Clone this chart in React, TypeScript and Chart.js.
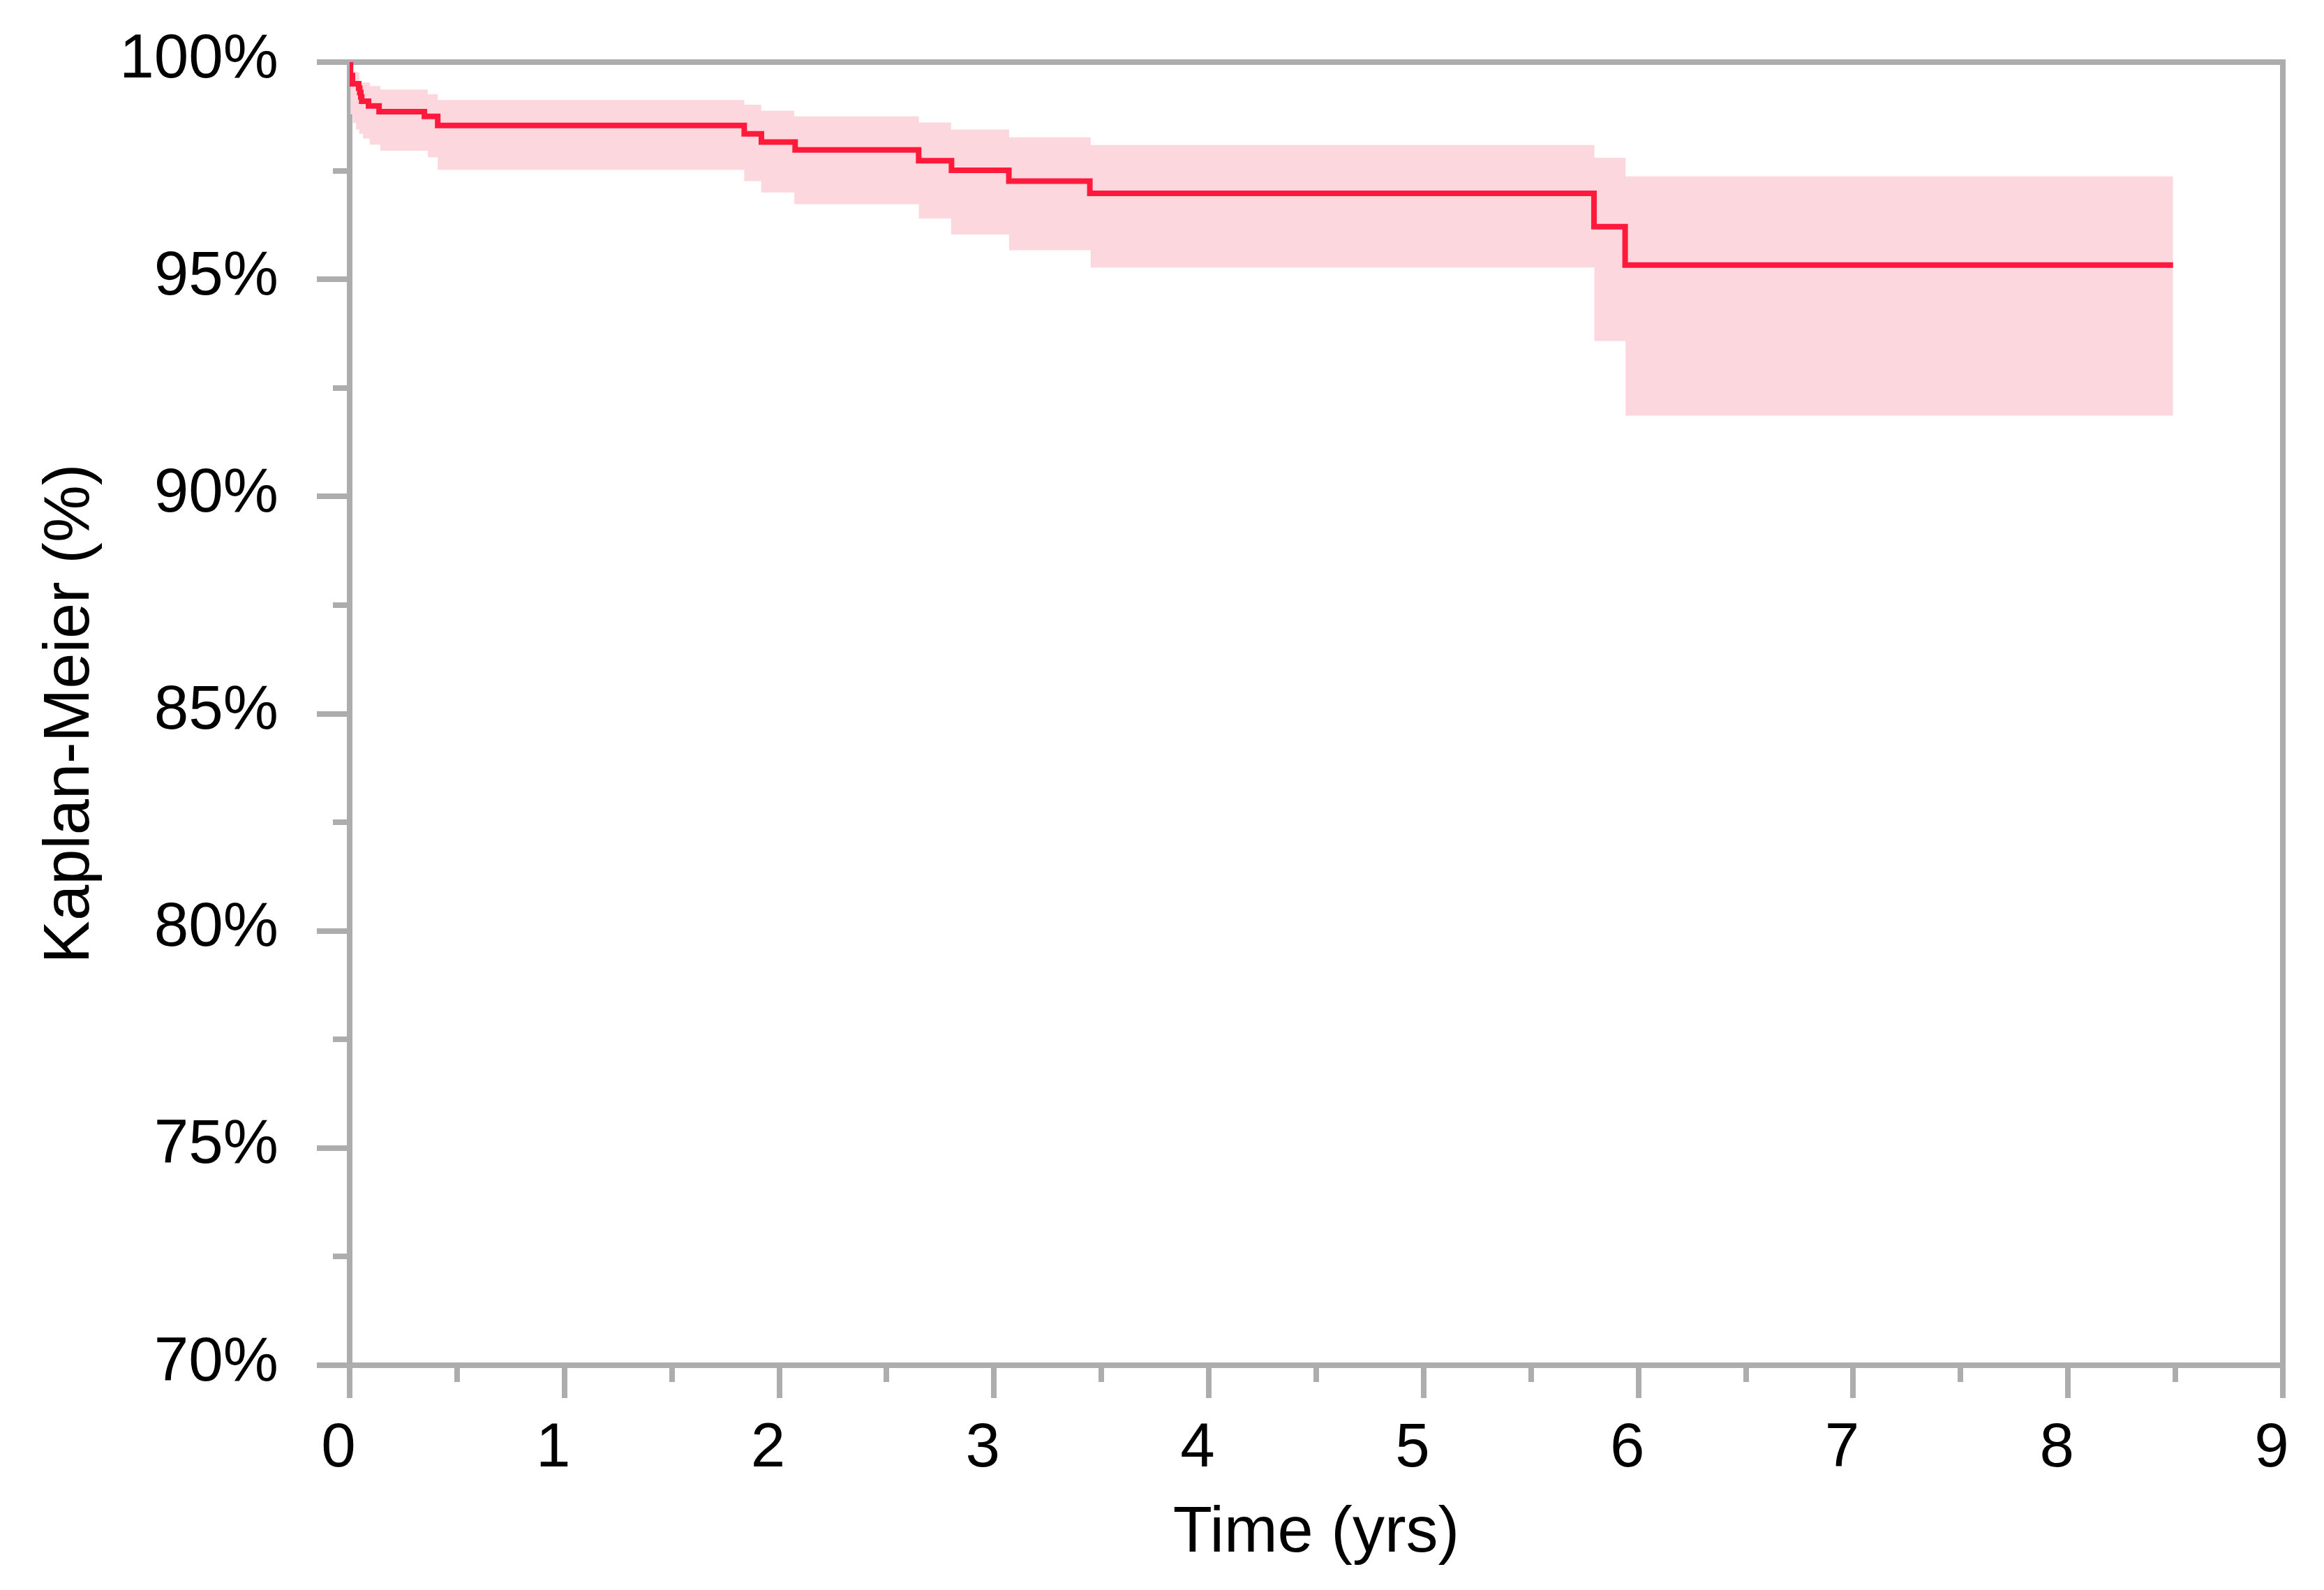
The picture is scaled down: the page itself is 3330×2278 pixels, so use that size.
import React, { useEffect, useRef } from 'react';
import { Chart, registerables } from 'chart.js';

Chart.register(...registerables);

// Kaplan-Meier estimate (time in years, survival in %)
const kmTimes = [0, 0.004, 0.013, 0.042, 0.047, 0.052, 0.056, 0.088, 0.137, 0.348, 0.41, 1.837, 1.917, 2.074, 2.649, 2.802, 3.069, 3.446, 5.793, 5.938, 8.489];
const kmSurvival = [100, 99.69, 99.5, 99.4, 99.3, 99.2, 99.1, 98.99, 98.86, 98.75, 98.54, 98.35, 98.16, 97.98, 97.73, 97.51, 97.26, 96.98, 96.21, 95.33, 95.33];

// Confidence band
const ciTimes = [0, 0.004, 0.015, 0.03, 0.045, 0.062, 0.094, 0.143, 0.364, 0.41, 1.837, 1.916, 2.07, 2.65, 2.8, 3.07, 3.45, 5.795, 5.94, 8.489];
const ciUpper = [100, 99.77, 99.77, 99.77, 99.53, 99.53, 99.45, 99.37, 99.26, 99.13, 99.02, 98.88, 98.75, 98.61, 98.45, 98.27, 98.09, 97.8, 97.37, 97.37];
const ciLower = [100, 98.8, 98.6, 98.45, 98.35, 98.24, 98.1, 97.96, 97.81, 97.52, 97.26, 97.0, 96.73, 96.4, 96.03, 95.67, 95.27, 93.58, 91.86, 91.86];

const xTickMin = 0;
const xTickMax = 9;
const yTickMin = 70;
const yTickMax = 100;

const xTitle = 'Time (yrs)';
const yTitle = 'Kaplan-Meier (%)';

const RED = '#FF1A3C';
const BAND = '#FDD7DE';
const GRAY = '#ADADAD';
const FONT = '"Liberation Sans", Arial, Helvetica, sans-serif';
const AXIS_W = 8;

const framePlugin = {
  id: 'frame',
  beforeDatasetsDraw(chart: any) {
    const { ctx, chartArea } = chart;
    ctx.save();
    ctx.strokeStyle = GRAY;
    ctx.lineWidth = AXIS_W;
    ctx.lineCap = 'square';
    ctx.beginPath();
    ctx.moveTo(chartArea.left, chartArea.top);
    ctx.lineTo(chartArea.right, chartArea.top);
    ctx.lineTo(chartArea.right, chartArea.bottom);
    ctx.stroke();
    ctx.restore();
  },
};

export default function App() {
  const ref = useRef<HTMLCanvasElement>(null);

  useEffect(() => {
    const canvas = ref.current;
    if (!canvas) return;
    const chart = new Chart(canvas, {
      type: 'line',
      data: {
        datasets: [
          {
            label: 'KM',
            data: kmTimes.map((t, i) => ({ x: t, y: kmSurvival[i] })),
            borderColor: RED,
            borderWidth: 8,
            stepped: 'before',
            pointRadius: 0,
            fill: false,
          },
          {
            label: 'upper',
            data: ciTimes.map((t, i) => ({ x: t, y: ciUpper[i] })),
            borderColor: 'rgba(0,0,0,0)',
            borderWidth: 0,
            stepped: 'before',
            pointRadius: 0,
            fill: false,
          },
          {
            label: 'lower',
            data: ciTimes.map((t, i) => ({ x: t, y: ciLower[i] })),
            borderColor: 'rgba(0,0,0,0)',
            backgroundColor: BAND,
            borderWidth: 0,
            stepped: 'before',
            pointRadius: 0,
            fill: '-1',
          },
        ],
      },
      options: {
        animation: false,
        responsive: false,
        devicePixelRatio: 1,
        layout: { padding: { left: 0, right: 59, top: 89, bottom: 0 } },
        plugins: {
          legend: { display: false },
          tooltip: { enabled: false },
        },
        scales: {
          x: {
            type: 'linear',
            min: xTickMin,
            max: xTickMax,
            afterFit: (s: any) => {
              s.height = 322;
              s.paddingLeft = 0;
              s.paddingRight = 0;
              s.paddingTop = 0;
              s.paddingBottom = 0;
            },
            ticks: {
              stepSize: 0.5,
              autoSkip: false,
              maxRotation: 0,
              padding: 20,
              labelOffset: -16,
              color: '#000',
              font: { family: FONT, size: 89 },
              callback: (v: any) => (Number.isInteger(v) ? String(v) : ''),
            },
            grid: {
              drawOnChartArea: false,
              drawTicks: true,
              tickLength: 47,
              lineWidth: AXIS_W,
              tickWidth: AXIS_W,
              color: GRAY,
              tickColor: GRAY,
              tickBorderDash: (ctx: any) =>
                ctx.tick && !Number.isInteger(ctx.tick.value) ? [20, 200] : [],
            },
            border: { display: true, color: GRAY, width: AXIS_W },
            title: {
              display: true,
              text: xTitle,
              color: '#000',
              font: { family: FONT, size: 92 },
              padding: { top: 0, bottom: 25 },
            },
          },
          y: {
            type: 'linear',
            min: yTickMin,
            max: yTickMax,
            afterFit: (s: any) => {
              s.width = 501;
              s.paddingLeft = 0;
              s.paddingRight = 0;
              s.paddingTop = 0;
              s.paddingBottom = 0;
            },
            ticks: {
              stepSize: 2.5,
              autoSkip: false,
              padding: 55,
              labelOffset: -3,
              color: '#000',
              font: { family: FONT, size: 89 },
              callback: (v: any) => (v % 5 === 0 ? v + '%' : ''),
            },
            grid: {
              drawOnChartArea: false,
              drawTicks: true,
              tickLength: 47,
              lineWidth: AXIS_W,
              tickWidth: AXIS_W,
              color: GRAY,
              tickColor: GRAY,
              tickBorderDash: (ctx: any) =>
                ctx.tick && ctx.tick.value % 5 !== 0 ? [0, 23, 200, 0] : [],
            },
            border: { display: true, color: GRAY, width: AXIS_W },
            title: {
              display: true,
              text: yTitle,
              color: '#000',
              font: { family: FONT, size: 92 },
              padding: { top: 46, bottom: 0 },
            },
          },
        },
      },
      plugins: [framePlugin],
    } as any);
    return () => chart.destroy();
  }, []);

  return (
    <div style={{ position: 'fixed', left: 0, top: 0, width: 3330, height: 2278, background: '#fff' }}>
      <canvas ref={ref} width={3330} height={2278} style={{ display: 'block', width: 3330, height: 2278 }} />
    </div>
  );
}
